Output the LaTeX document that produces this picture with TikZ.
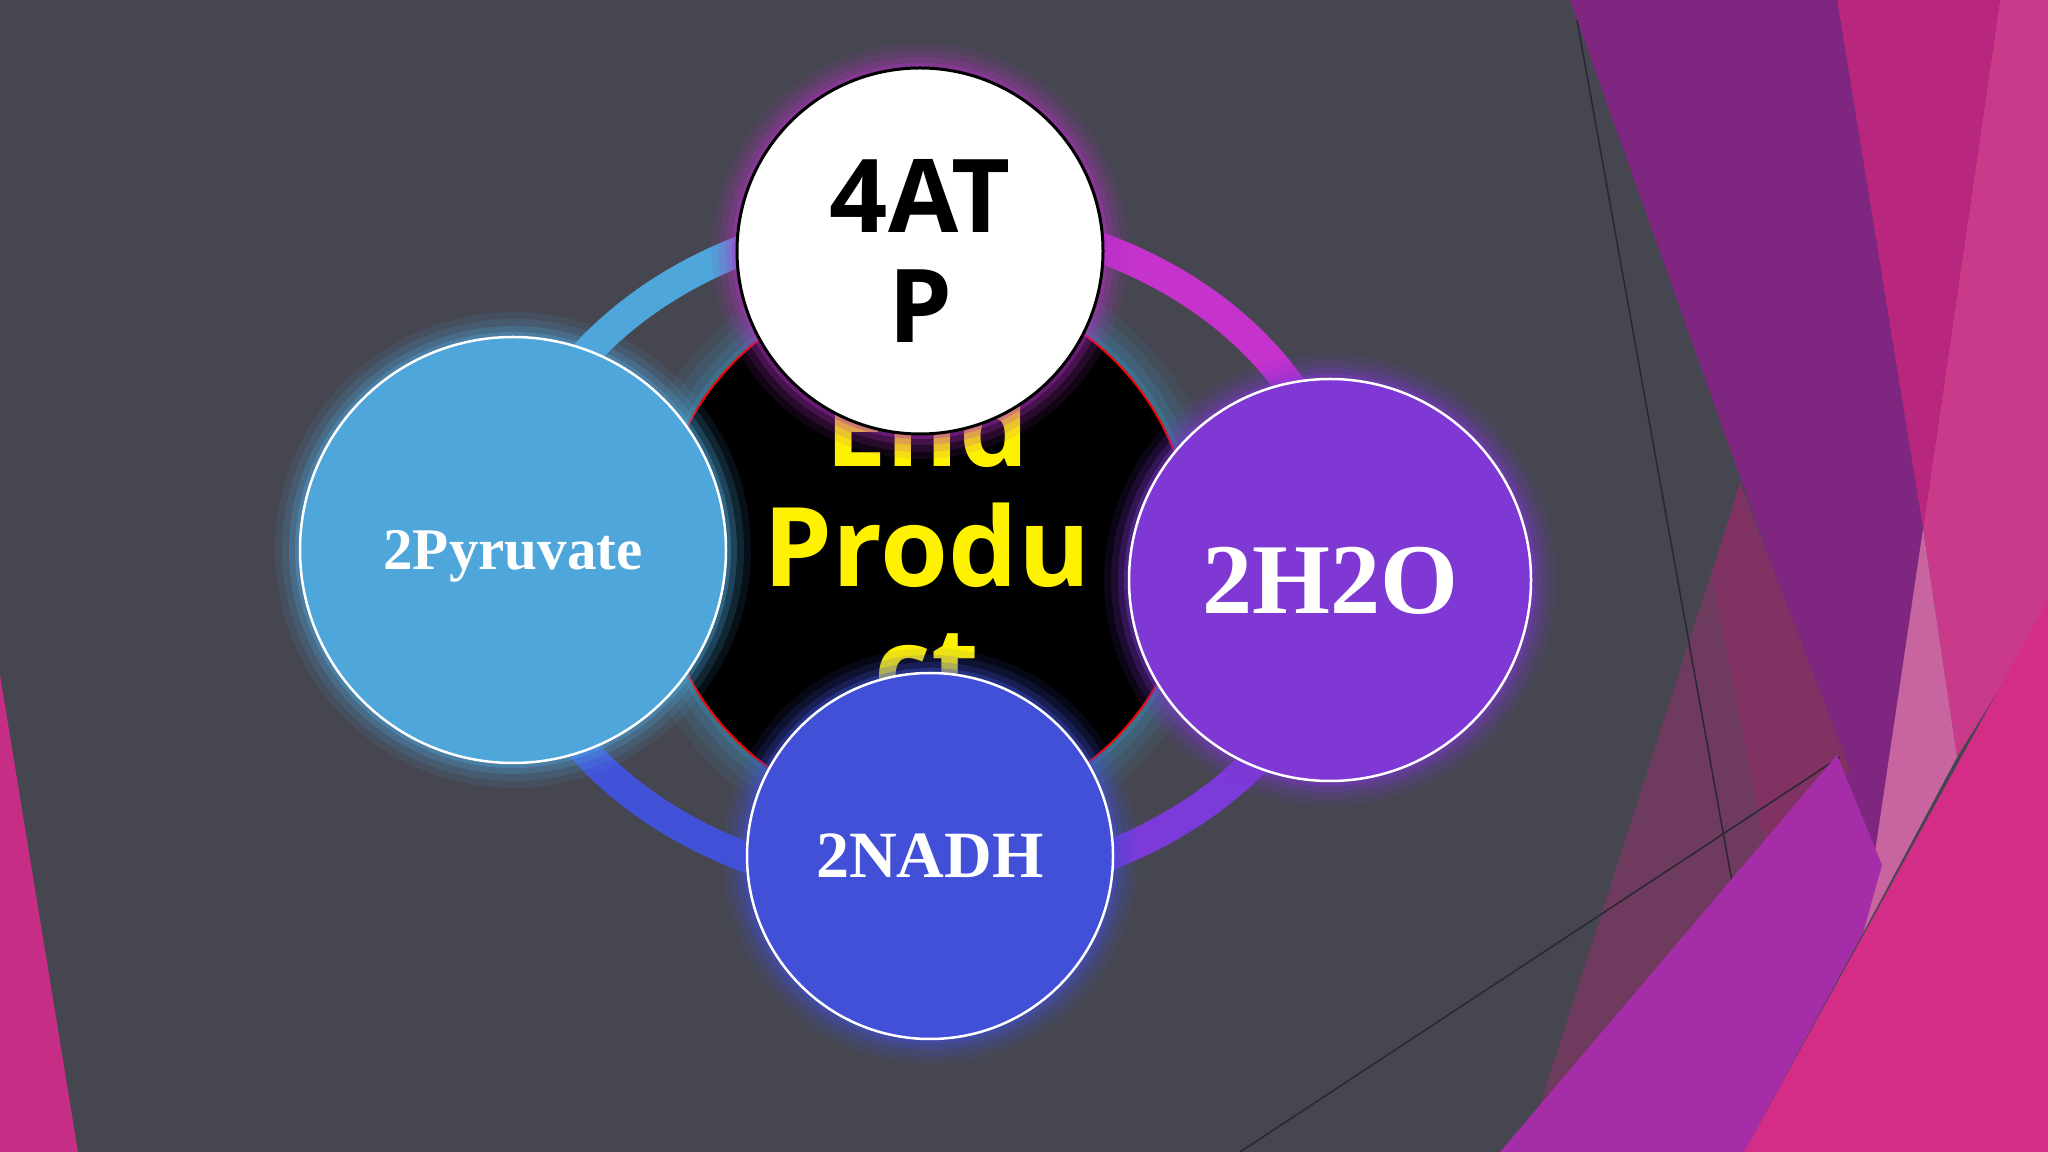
\documentclass[tikz,border=0pt]{standalone}
\usepackage{fontspec}
\setmainfont{Liberation Serif}
\setsansfont{Open Sans}

\definecolor{slate}{RGB}{70,70,80}
\definecolor{plum}{RGB}{126,38,128}
\definecolor{rose}{RGB}{185,38,126}
\definecolor{blush}{RGB}{201,58,138}
\definecolor{lilac}{RGB}{200,100,160}
\definecolor{orchid}{RGB}{165,46,168}
\definecolor{cerise}{RGB}{212,45,136}
\definecolor{wine}{RGB}{110,58,94}
\definecolor{claret}{RGB}{128,50,98}
\definecolor{leftpink}{RGB}{198,45,132}
\definecolor{hairline}{RGB}{40,40,50}
\definecolor{pyrblue}{RGB}{78,166,218}
\definecolor{waterviolet}{RGB}{127,56,212}
\definecolor{nadhblue}{RGB}{65,80,214}
\definecolor{atpglow}{RGB}{176,48,192}
\definecolor{coreglow}{RGB}{58,140,180}
\definecolor{ringmag}{RGB}{197,50,204}
\definecolor{ringblue}{RGB}{65,82,216}
\definecolor{ringviolet}{RGB}{124,58,216}

\begin{document}
\begin{tikzpicture}[x=0.1mm, y=-0.1mm,
    bub/.style={circle, inner sep=0pt, text depth=0pt, align=center},
    glow/.style={preaction={draw=#1, draw opacity=.10, line width=5mm},
                 preaction={draw=#1, draw opacity=.15, line width=3.6mm},
                 preaction={draw=#1, draw opacity=.22, line width=2.2mm},
                 preaction={draw=#1, draw opacity=.35, line width=1mm}},
    halo/.style={preaction={draw=#1, draw opacity=.10, line width=7mm},
                 preaction={draw=#1, draw opacity=.15, line width=5mm},
                 preaction={draw=#1, draw opacity=.22, line width=3mm},
                 preaction={draw=#1, draw opacity=.35, line width=1.2mm}},
    ring/.style={line width=3mm},
    hair/.style={draw=hairline, line width=0.15mm}]

    \useasboundingbox (0,0) rectangle (2048,1152);
    \fill[slate] (0,0) rectangle (2048,1152);

    \fill[leftpink] (0,675) -- (78,1152) -- (0,1152) -- cycle;
    \fill[blush] (2000,0) -- (2048,0) -- (2048,610) -- (1957,757) -- (1923,529) -- cycle;
    \fill[rose] (1837,0) -- (2000,0) -- (1923,529) -- cycle;
    \fill[plum] (1570,0) -- (1837,0) -- (1923,529) -- (1863,933) -- (1840,757) -- cycle;
    \fill[lilac] (1923,529) -- (1957,757) -- (1863,933) -- cycle;
    \fill[wine] (1740,483) -- (1850,770) -- (1525,1152) -- cycle;
    \fill[claret] (1740,483) -- (1850,770) -- (1765,845) -- (1712,577) -- cycle;
    \draw[hair] (1577,20) -- (1732,882);
    \draw[hair] (1240,1152) -- (1840,757);
    \fill[orchid] (1500,1152) -- (1837,755) -- (1882,865) -- (1863,933) -- (1744,1152) -- cycle;
    \fill[cerise] (1744,1152) -- (2048,600) -- (2048,1152) -- cycle;

    \coordinate (ringc) at (925,553);
    \draw[ring, pyrblue] (ringc) ++(180:42.1mm and 33.6mm) arc[start angle=180, end angle=90, x radius=42.1mm, y radius=33.6mm];
    \draw[ring, ringmag] (ringc) ++(90:42.1mm and 33.6mm) arc[start angle=90, end angle=-5, x radius=42.1mm, y radius=33.6mm];
    \draw[ring, ringviolet] (ringc) ++(-5:42.1mm and 33.6mm) arc[start angle=-5, end angle=-90, x radius=42.1mm, y radius=33.6mm];
    \draw[ring, ringblue] (ringc) ++(-90:42.1mm and 33.6mm) arc[start angle=-90, end angle=-180, x radius=42.1mm, y radius=33.6mm];

    \node[bub, halo=coreglow, fill=black, draw=red, line width=0.2mm, minimum size=53.6mm] (core) at (925,550) {};
    \node[align=center, text=yellow, font=\sffamily\bfseries\fontsize{31.3}{34.1}\selectfont] (endtxt) at (927,545) {End\\Produ\\ct};

    \node[bub, glow=pyrblue, fill=pyrblue, draw=white, line width=0.25mm, minimum size=42.6mm, text=white, font=\bfseries\fontsize{16.8}{20}\selectfont] (pyr) at (513,550) {2Pyruvate};
    \node[bub, glow=waterviolet, fill=waterviolet, draw=white, line width=0.25mm, minimum size=40.2mm, text=white, font=\bfseries\fontsize{28.5}{32}\selectfont] (water) at (1330,580) {2H2O};
    \node[bub, glow=nadhblue, fill=nadhblue, draw=white, line width=0.25mm, minimum size=36.6mm, text=white, font=\bfseries\fontsize{18.8}{22}\selectfont] (nadh) at (930,856) {2NADH};
    \node[bub, glow=atpglow, fill=white, draw=black, line width=0.3mm, minimum size=36.6mm, font=\sffamily\bfseries\fontsize{29}{31.3}\selectfont] (atp) at (920,251) {4AT\\P};

\end{tikzpicture}
\end{document}
